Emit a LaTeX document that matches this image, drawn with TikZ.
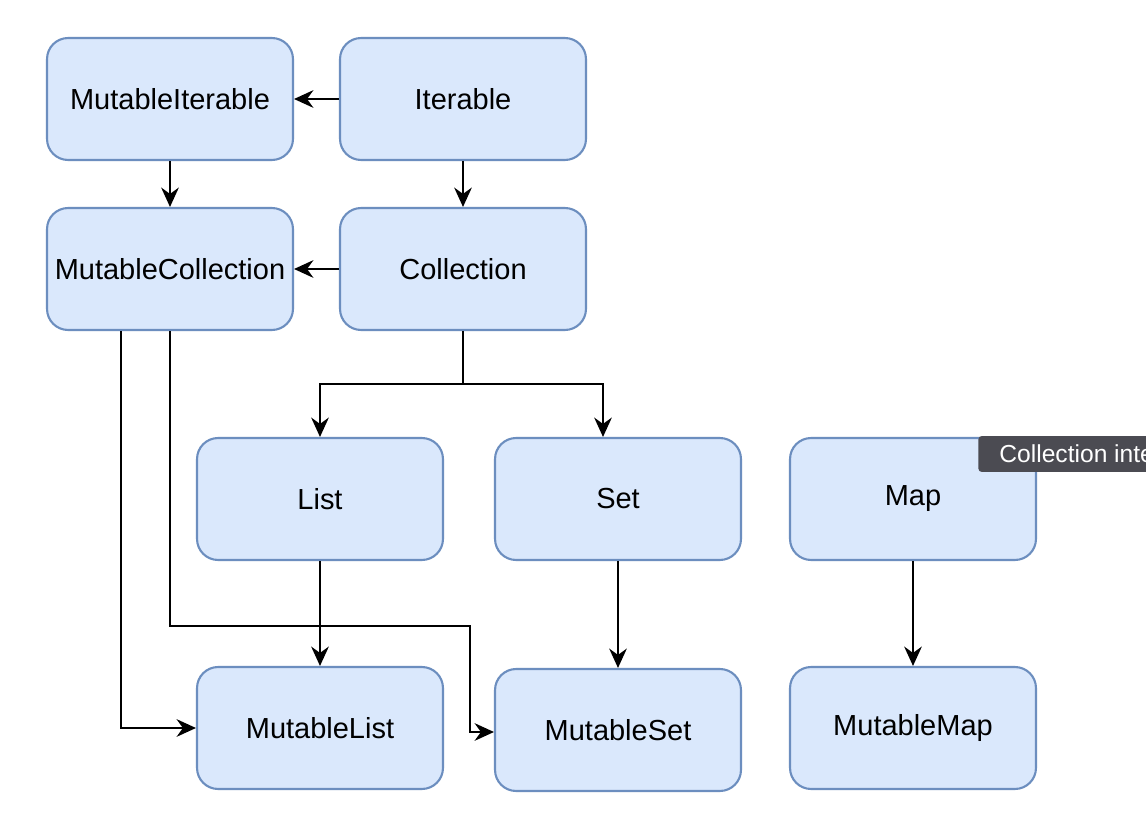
\documentclass[tikz,border=0pt]{standalone}
\usepackage{fontspec}
\setmainfont{Liberation Sans}
\usetikzlibrary{arrows.meta}
\definecolor{boxfill}{HTML}{DAE8FC}
\definecolor{boxline}{HTML}{6C8EBF}
\definecolor{tipgray}{HTML}{4B4B52}
\tikzset{
  iface/.style={draw=boxline, fill=boxfill, line width=1.2pt, rounded corners=12pt,
    minimum width=4.92cm, minimum height=2.44cm, font=\fontsize{16.5}{19}\selectfont},
  link/.style={-{Stealth[length=11pt,width=10pt]}, line width=1.3pt},
}
\begin{document}
\begin{tikzpicture}[x=0.02cm,y=-0.02cm]
\useasboundingbox[fill=white] (0,0) rectangle (1146,814);
\clip (0,0) rectangle (1146,814);
% top rows
\node[iface] (mutIter) at (170,99) {MutableIterable};
\node[iface] (iter) at (463,99) {Iterable};
\node[iface] (mutColl) at (170,269) {MutableCollection};
\node[iface] (coll) at (463,269) {Collection};
% read-only interfaces
\node[iface] (list) at (320,499) {List};
\node[iface] (set) at (618,499) {Set};
\node[iface] (map) at (913,499) {Map};
% mutable interfaces
\node[iface] (mutList) at (320,728) {MutableList};
\node[iface] (mutSet) at (618,730) {MutableSet};
\node[iface] (mutMap) at (913,728) {MutableMap};
% arrows
\draw[link] (iter) -- (mutIter);
\draw[link] (iter) -- (coll);
\draw[link] (mutIter) -- (mutColl);
\draw[link] (coll) -- (mutColl);
\draw[link] (coll.south) -- ++(0,53) -| (list.north);
\draw[link] (coll.south) -- ++(0,53) -| ([xshift=-15*0.02cm]set.north);
\draw[link] ([xshift=-49*0.02cm]mutColl.south) |- (mutList.west);
\draw[link] (mutColl.south) -- ++(0,295) -| (470,732) -- (mutSet.west |- 0,732);
\draw[link] (list) -- (mutList);
\draw[link] (set) -- (mutSet);
\draw[link] (map) -- (mutMap);
% tooltip
\node[fill=tipgray, text=white, anchor=west, inner sep=0pt, minimum height=0.72cm,
  rounded corners=2pt, text depth=0pt, font=\fontsize{14}{16}\selectfont] (tip) at (978,454)
  {\hspace{12pt}Collection interface\hspace{12pt}};
\end{tikzpicture}
\end{document}
